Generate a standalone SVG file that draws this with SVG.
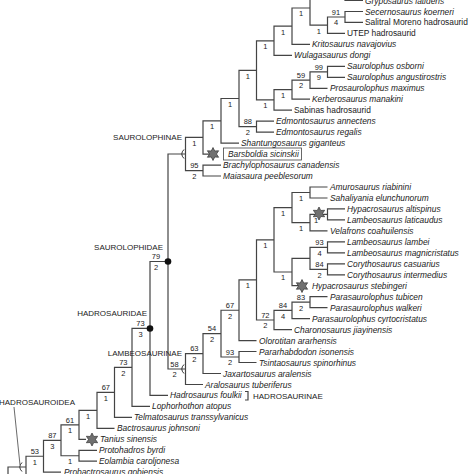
<svg xmlns="http://www.w3.org/2000/svg" width="474" height="474" viewBox="0 0 474 474">
<style>
.br{fill:none;stroke:#444;stroke-width:1.2}
.lf{font-family:"Liberation Sans",Arial,sans-serif;font-size:8.4px;font-style:italic;fill:#222}
.rm{font-family:"Liberation Sans",Arial,sans-serif;font-size:8.4px;fill:#222}
.sp{font-family:"Liberation Sans",Arial,sans-serif;font-size:7.5px;fill:#222;text-anchor:middle}
.cl{font-family:"Liberation Sans",Arial,sans-serif;font-size:8px;fill:#222}
.mk{fill:none;stroke:#333;stroke-width:1}
.star{fill:#707070;stroke:#333;stroke-width:0.7}
</style>
<defs>
<polygon id="st" points="0,-6.5 1.75,-3.03 5.63,-3.25 3.5,0 5.63,3.25 1.75,3.03 0,6.5 -1.75,3.03 -5.63,3.25 -3.5,0 -5.63,-3.25 -1.75,-3.03"/>
</defs>
<rect width="474" height="474" fill="#fff"/>
<g id="connectors" class="br">
<path d="M345,-14 V0.5 H363"/>
<path d="M363,11.5 H345 V22.4 H363"/>
<path d="M345,17 H327.5 V33.4 H345"/>
<path d="M327.5,-9.2 H310 V25.2 H327.5"/>
<path d="M327.5,-14 V-4"/>
<path d="M310,8 H292 V44.4 H310"/>
<path d="M292,26.2 H274 V55.4 H292"/>
<path d="M274,40.8 H256.5 V99.9 H274"/>
<path d="M345,66.3 H327.5 V77.3 H345"/>
<path d="M327.5,71.8 H310 V88.3 H327.5"/>
<path d="M310,80.05 H292 V99.2 H310"/>
<path d="M292,89.6 H274 V110.2 H292"/>
<path d="M274,121.2 H256.5 V132.1 H274"/>
<path d="M256.5,70.35 H239 V126.65 H256.5"/>
<path d="M239,98.5 H221 V143.1 H239"/>
<path d="M221,120.8 H203 V154.1 H210"/>
<path d="M221,165.1 H203 V176 H221"/>
<path d="M203,137.45 H185.5 V170.55 H203"/>
<path d="M327.5,187 H310 V198 H327.5"/>
<path d="M345,208.9 H327.5 V219.9 H345"/>
<path d="M327.5,214.4 H310 V230.9 H327.5"/>
<path d="M310,192.5 H292 V222.65 H310"/>
<path d="M345,241.8 H327.5 V252.8 H345"/>
<path d="M345,263.8 H327.5 V274.8 H345"/>
<path d="M327.5,247.3 H310 V269.3 H327.5"/>
<path d="M310,258.3 H292 V285.7 H300"/>
<path d="M292,207.6 H274 V272 H292"/>
<path d="M327.5,296.7 H310 V307.7 H327.5"/>
<path d="M310,302.2 H292 V318.6 H310"/>
<path d="M292,310.4 H274 V329.6 H292"/>
<path d="M274,239.8 H256.5 V320 H274"/>
<path d="M256.5,279.9 H239 V340.6 H256.5"/>
<path d="M256.5,351.5 H239 V362.5 H256.5"/>
<path d="M239,310.25 H221 V357 H239"/>
<path d="M221,333.6 H203 V373.5 H221"/>
<path d="M203,353.55 H185.5 V384.5 H203"/>
<path d="M185.5,154 H168 V369 H185.5"/>
<path d="M168,261.5 H150 V395.4 H168"/>
<path d="M150,328.45 H132 V406.4 H150"/>
<path d="M132,367.4 H114.5 V417.4 H132"/>
<path d="M114.5,392.4 H97 V428.3 H114.5"/>
<path d="M97,410.35 H79 V439.3 H86"/>
<path d="M97,450.3 H79 V461.2 H97"/>
<path d="M79,424.8 H61 V455.75 H79"/>
<path d="M61,440.3 H43.5 V472.2 H61"/>
<path d="M43.5,456.25 H26 V480 H43.5"/>
<path d="M26,467 H8 V480"/>
<path d="M245,391.5 H248 V400 H245"/>
<path d="M14,407 L20,465" stroke-width="0.8"/>
</g>
<g id="marks">
<path class="mk" d="M184,149.5 Q179.5,154 184,158.5"/>
<path class="mk" d="M184,364.5 Q179.5,369 184,373.5"/>
<path class="mk" d="M22,462.5 Q17.5,467 22,471.5"/>
<circle cx="168" cy="261.5" r="3.3" fill="#111"/>
<circle cx="150" cy="328.45" r="3.3" fill="#111"/>
<use href="#st" class="star" x="213" y="154"/>
<use href="#st" class="star" x="319" y="213.5"/>
<use href="#st" class="star" x="302" y="286"/>
<use href="#st" class="star" x="92" y="439.5"/>
<rect x="223.5" y="148" width="78" height="12" fill="none" stroke="#444" stroke-width="0.8"/>
</g>
<g id="support">
<text class="sp" x="336" y="14.8">91</text><text class="sp" x="336" y="25.3">4</text>
<text class="sp" x="318.8" y="33.5">1</text>
<text class="sp" x="301" y="16.3">1</text>
<text class="sp" x="283" y="34.5">1</text>
<text class="sp" x="265.3" y="49.1">1</text>
<text class="sp" x="247.8" y="78.6">1</text>
<text class="sp" x="318.8" y="69.6">99</text><text class="sp" x="318.8" y="80.1">9</text>
<text class="sp" x="301" y="77.8">59</text><text class="sp" x="301" y="88.3">2</text>
<text class="sp" x="283" y="97.9">1</text>
<text class="sp" x="265.3" y="108.2">1</text>
<text class="sp" x="230" y="106.8">1</text>
<text class="sp" x="247.8" y="124.4">88</text><text class="sp" x="247.8" y="134.9">2</text>
<text class="sp" x="212" y="129.1">1</text>
<text class="sp" x="194.3" y="145.7">1</text>
<text class="sp" x="194.3" y="168.3">95</text><text class="sp" x="194.3" y="178.8">2</text>
<text class="sp" x="301" y="200.8">1</text>
<text class="sp" x="316" y="222.7">1</text>
<text class="sp" x="301" y="230.9">1</text>
<text class="sp" x="283" y="215.9">1</text>
<text class="sp" x="319.5" y="245">93</text><text class="sp" x="319.5" y="255.6">4</text>
<text class="sp" x="319.5" y="267">84</text><text class="sp" x="319.5" y="277.6">2</text>
<text class="sp" x="283" y="280.3">1</text>
<text class="sp" x="265.3" y="248.1">1</text>
<text class="sp" x="301" y="300">83</text><text class="sp" x="301" y="310.5">2</text>
<text class="sp" x="283" y="308.2">84</text><text class="sp" x="283" y="318.7">4</text>
<text class="sp" x="265.3" y="317.8">72</text><text class="sp" x="265.3" y="328.3">2</text>
<text class="sp" x="247.8" y="288.2">1</text>
<text class="sp" x="230" y="308">67</text><text class="sp" x="230" y="318.5">2</text>
<text class="sp" x="230" y="354.8">93</text><text class="sp" x="230" y="365.3">2</text>
<text class="sp" x="212" y="331.4">54</text><text class="sp" x="212" y="341.9">2</text>
<text class="sp" x="194.3" y="351.3">63</text><text class="sp" x="194.3" y="361.8">2</text>
<text class="sp" x="174.5" y="366.8">58</text><text class="sp" x="174.5" y="377.3">2</text>
<text class="sp" x="156" y="259.3">79</text><text class="sp" x="156" y="269.8">2</text>
<text class="sp" x="140.5" y="326.2">73</text><text class="sp" x="140.5" y="336.7">3</text>
<text class="sp" x="123.3" y="365.2">73</text><text class="sp" x="123.3" y="375.7">2</text>
<text class="sp" x="105.8" y="390.2">67</text><text class="sp" x="105.8" y="400.7">1</text>
<text class="sp" x="88" y="418.6">1</text>
<text class="sp" x="70" y="422.6">61</text><text class="sp" x="70" y="433.1">1</text>
<text class="sp" x="70" y="464">1</text>
<text class="sp" x="52.3" y="438.1">87</text><text class="sp" x="52.3" y="448.6">3</text>
<text class="sp" x="34.8" y="454">53</text><text class="sp" x="34.8" y="464.5">1</text>
</g>
<g id="clades">
<text class="cl" x="182" y="140" text-anchor="end">SAUROLOPHINAE</text>
<text class="cl" x="163" y="250" text-anchor="end">SAUROLOPHIDAE</text>
<text class="cl" x="147" y="316" text-anchor="end">HADROSAURIDAE</text>
<text class="cl" x="182" y="356" text-anchor="end">LAMBEOSAURINAE</text>
<text class="cl" x="-1" y="405">HADROSAUROIDEA</text>
<text class="cl" x="253" y="399">HADROSAURINAE</text>
</g>
<g id="leaves">
<g id="n0"><text class="lf" x="365" y="3.5">Gryposaurus latidens</text></g>
<g id="n1"><text class="lf" x="365" y="14.5">Secernosaurus koerneri</text></g>
<g id="n2"><text class="rm" x="365" y="25.4">Salitral Moreno hadrosaurid</text></g>
<g id="n3"><text class="rm" x="347" y="36.4">UTEP hadrosaurid</text></g>
<g id="n4"><text class="lf" x="312" y="47.4">Kritosaurus navajovius</text></g>
<g id="n5"><text class="lf" x="294" y="58.4">Wulagasaurus dongi</text></g>
<g id="n6"><text class="lf" x="347" y="69.3">Saurolophus osborni</text></g>
<g id="n7"><text class="lf" x="347" y="80.3">Saurolophus angustirostris</text></g>
<g id="n8"><text class="lf" x="330" y="91.3">Prosaurolophus maximus</text></g>
<g id="n9"><text class="lf" x="312" y="102.2">Kerberosaurus manakini</text></g>
<g id="n10"><text class="rm" x="294" y="113.2">Sabinas hadrosaurid</text></g>
<g id="n11"><text class="lf" x="276" y="124.2">Edmontosaurus annectens</text></g>
<g id="n12"><text class="lf" x="276" y="135.1">Edmontosaurus regalis</text></g>
<g id="n13"><text class="lf" x="241" y="146.1">Shantungosaurus giganteus</text></g>
<g id="n14"><text class="lf" x="228" y="157.1">Barsboldia sicinskii</text></g>
<g id="n15"><text class="lf" x="223" y="168.1">Brachylophosaurus canadensis</text></g>
<g id="n16"><text class="lf" x="223" y="179">Maiasaura peeblesorum</text></g>
<g id="n17"><text class="lf" x="330" y="190">Amurosaurus riabinini</text></g>
<g id="n18"><text class="lf" x="330" y="201">Sahaliyania elunchunorum</text></g>
<g id="n19"><text class="lf" x="347" y="211.9">Hypacrosaurus altispinus</text></g>
<g id="n20"><text class="lf" x="347" y="222.9">Lambeosaurus laticaudus</text></g>
<g id="n21"><text class="lf" x="330" y="233.9">Velafrons coahuilensis</text></g>
<g id="n22"><text class="lf" x="347" y="244.8">Lambeosaurus lambei</text></g>
<g id="n23"><text class="lf" x="347" y="255.8">Lambeosaurus magnicristatus</text></g>
<g id="n24"><text class="lf" x="347" y="266.8">Corythosaurus casuarius</text></g>
<g id="n25"><text class="lf" x="347" y="277.8">Corythosaurus intermedius</text></g>
<g id="n26"><text class="lf" x="312" y="288.7">Hypacrosaurus stebingeri</text></g>
<g id="n27"><text class="lf" x="330" y="299.7">Parasaurolophus tubicen</text></g>
<g id="n28"><text class="lf" x="330" y="310.7">Parasaurolophus walkeri</text></g>
<g id="n29"><text class="lf" x="312" y="321.6">Parasaurolophus cyrtocristatus</text></g>
<g id="n30"><text class="lf" x="294" y="332.6">Charonosaurus jiayinensis</text></g>
<g id="n31"><text class="lf" x="259" y="343.6">Olorotitan ararhensis</text></g>
<g id="n32"><text class="lf" x="259" y="354.5">Pararhabdodon isonensis</text></g>
<g id="n33"><text class="lf" x="259" y="365.5">Tsintaosaurus spinorhinus</text></g>
<g id="n34"><text class="lf" x="223" y="376.5">Jaxartosaurus aralensis</text></g>
<g id="n35"><text class="lf" x="205" y="387.5">Aralosaurus tuberiferus</text></g>
<g id="n36"><text class="lf" x="170" y="398.4">Hadrosaurus foulkii</text></g>
<g id="n37"><text class="lf" x="152" y="409.4">Lophorhothon atopus</text></g>
<g id="n38"><text class="lf" x="134" y="420.4">Telmatosaurus transsylvanicus</text></g>
<g id="n39"><text class="lf" x="117" y="431.3">Bactrosaurus johnsoni</text></g>
<g id="n40"><text class="lf" x="100" y="442.3">Tanius sinensis</text></g>
<g id="n41"><text class="lf" x="99" y="453.3">Protohadros byrdi</text></g>
<g id="n42"><text class="lf" x="99" y="464.2">Eolambia caroljonesa</text></g>
<g id="n43"><text class="lf" x="64" y="475.2">Probactrosaurus gobiensis</text></g>
</g>
</svg>
